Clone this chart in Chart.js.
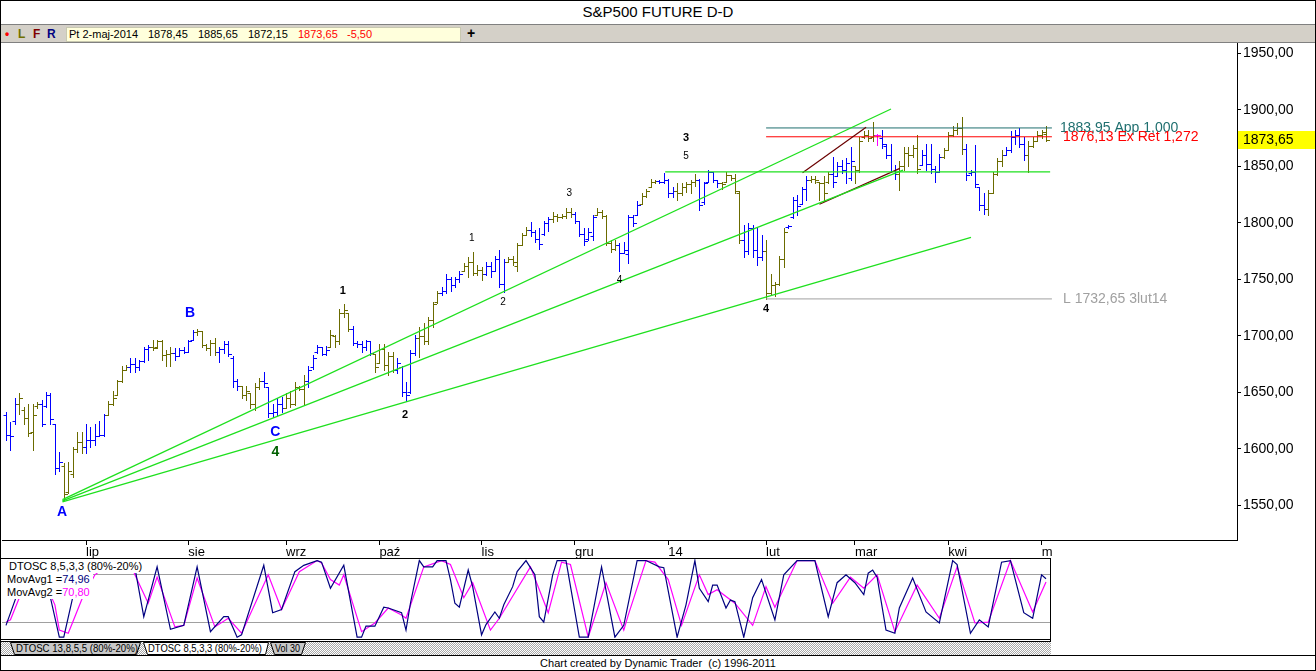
<!DOCTYPE html>
<html>
<head>
<meta charset="utf-8">
<title>S&amp;P500 FUTURE D-D</title>
<script src="https://cdn.jsdelivr.net/npm/chart.js@4.4.1/dist/chart.umd.min.js"></script>
<style>
  html, body { margin: 0; padding: 0; }
  body { width: 1316px; height: 671px; overflow: hidden; position: relative; background: #fff;
         font-family: "Liberation Sans", Arial, sans-serif; color: #000; }
  .abs { position: absolute; }
  #frame { left: 0; top: 0; width: 1314px; height: 669px; border: 1px solid #000; pointer-events: none; z-index: 20; }
  #title { left: 0; top: 4px; width: 1316px; text-align: center; font-size: 15px; line-height: 16px; }
  #toolbar { left: 1px; top: 24px; width: 1314px; height: 17px; background: #d4d0c8;
             border-top: 1px solid #808080; border-bottom: 1px solid #808080; }
  .tb { top: 27px; font-size: 12px; font-weight: bold; line-height: 14px; }
  #info { left: 66px; top: 27px; width: 393px; height: 13px; background: #ffffdc; border: 1px solid #c8c8b0; }
  .inf { top: 27px; font-size: 11px; line-height: 14px; }
  .red { color: #ff0000; }
  #priceChart { left: 0; top: 42px; }
  #oscChart { left: 0; top: 559px; }
  .hl { background: #000; height: 1px; }
  .oscLbl { left: 2px; background: #fff; font-size: 11px; line-height: 13px; padding: 0 3px 0 6px; z-index: 5; white-space: pre; }
  #footer { left: 0; top: 656px; width: 1316px; text-align: center; font-size: 11px; line-height: 14px; white-space: pre; }
</style>
</head>
<body>
<div id="frame" class="abs"></div>
<div id="title" class="abs">S&amp;P500 FUTURE D-D</div>
<div id="toolbar" class="abs"></div>
<div class="abs tb" style="left:5px;color:#ff0000">&#8226;</div>
<div class="abs tb" style="left:18px;color:#707000">L</div>
<div class="abs tb" style="left:33px;color:#800000">F</div>
<div class="abs tb" style="left:47px;color:#000080">R</div>
<div id="info" class="abs"></div>
<div class="abs inf" style="left:69px">Pt 2-maj-2014</div>
<div class="abs inf" style="left:148px">1878,45</div>
<div class="abs inf" style="left:198px">1885,65</div>
<div class="abs inf" style="left:248px">1872,15</div>
<div class="abs inf red" style="left:298px">1873,65</div>
<div class="abs inf red" style="left:347px">-5,50</div>
<div class="abs tb" style="left:467px;font-size:14px;top:26px">+</div>

<canvas id="priceChart" class="abs" width="1316" height="516"></canvas>

<div class="abs hl" style="left:1px;top:558px;width:1050px"></div>
<div class="abs" style="left:1050px;top:558px;width:1px;height:84px;background:#000"></div>
<div class="abs hl" style="left:1px;top:639px;width:1050px"></div>
<div class="abs hl" style="left:1px;top:641px;width:1050px"></div>
<canvas id="oscChart" class="abs" width="1052" height="81"></canvas>
<div class="abs oscLbl" style="top:560px;padding-left:7px">DTOSC 8,5,3,3 (80%-20%)</div>
<div class="abs oscLbl" style="top:573px;padding-left:5px">MovAvg1 =<span id="ma1" style="color:#000080"></span></div>
<div class="abs oscLbl" style="top:586px;padding-left:5px">MovAvg2 =<span id="ma2" style="color:#ff00ff"></span></div>

<svg class="abs" style="left:1px;top:642px" width="1050" height="13">
  <defs>
    <pattern id="dots" width="2" height="2" patternUnits="userSpaceOnUse">
      <rect width="2" height="2" fill="#ffffff"/>
      <rect width="1" height="1" fill="#a8a8a8"/>
      <rect x="1" y="1" width="1" height="1" fill="#a8a8a8"/>
    </pattern>
  </defs>
  <rect width="1050" height="13" fill="url(#dots)"/>
  <polygon points="9.5,0.5 139.5,0.5 135.5,12.5 13.5,12.5" fill="#c8c8c8" stroke="#000" stroke-width="1"/>
  <text x="15" y="10" font-size="11" font-family="Liberation Sans, Arial" textLength="122" lengthAdjust="spacingAndGlyphs">DTOSC 13,8,5,5 (80%-20%)</text>
  <polygon points="142.5,0.5 267.5,0.5 264.5,12.5 146.5,12.5" fill="#ffffff" stroke="#000" stroke-width="1"/>
  <text x="147" y="10" font-size="11" font-family="Liberation Sans, Arial" textLength="114" lengthAdjust="spacingAndGlyphs">DTOSC 8,5,3,3 (80%-20%)</text>
  <polygon points="269.5,0.5 304.5,0.5 300.5,12.5 273.5,12.5" fill="#c8c8c8" stroke="#000" stroke-width="1"/>
  <text x="274" y="10" font-size="11" font-family="Liberation Sans, Arial" textLength="25" lengthAdjust="spacingAndGlyphs">Vol 30</text>
</svg>
<div class="abs hl" style="left:1px;top:655px;width:1314px"></div>
<div id="footer" class="abs">Chart created by Dynamic Trader  (c) 1996-2011</div>

<script>
// S&P500 future, daily bars 5 Jun 2013 - 2 May 2014
const firstSession = '2013-06-05';
const closedDays = ['2013-12-25', '2014-01-01', '2014-04-18'];
const monthLabels = ['lip', 'sie', 'wrz', 'paź', 'lis', 'gru', '14', 'lut', 'mar', 'kwi', 'm'];
const priceTicks = [1550, 1600, 1650, 1700, 1750, 1800, 1850, 1900, 1950];

const opens = [
  1630,1612,1625,1640,1634,1627,1615,1638,1640,1638,
  1648,1622,1583,1585,1562,1578,1600,1606,1602,1608,
  1608,1611,1612,1630,1640,1648,1660,1670,1672,1675,
  1672,1678,1688,1690,1690,1695,1683,1684,1685,1682,
  1687,1686,1696,1703,1704,1692,1689,1694,1686,1688,
  1693,1680,1660,1656,1648,1649,1640,1655,1660,1655,
  1632,1633,1640,1636,1645,1640,1655,1653,1660,1672,
  1686,1690,1684,1690,1700,1695,1720,1720,1706,1694,
  1693,1690,1695,1684,1676,1688,1674,1682,1670,1672,
  1650,1650,1685,1698,1700,1695,1714,1730,1738,1740,
  1750,1745,1750,1757,1762,1765,1756,1758,1755,1762,
  1757,1768,1746,1765,1768,1762,1780,1789,1794,1792,
  1786,1790,1800,1803,1806,1805,1806,1810,1808,1802,
  1790,1786,1788,1807,1810,1806,1782,1777,1780,1773,
  1772,1805,1807,1817,1824,1832,1836,1837,1836,1838,
  1826,1828,1826,1832,1834,1836,1838,1818,1836,1845,
  1838,1835,1836,1842,1840,1826,1785,1775,1795,1776,
  1770,1775,1738,1745,1746,1768,1796,1805,1820,1817,
  1830,1838,1839,1836,1835,1836,1843,1841,1850,1847,
  1840,1850,1847,1876,1878,1876,1877.7,1875,1868,1860,
  1846,1843,1850,1862,1860,1866,1851,1860,1852,1848,
  1845,1858,1864,1878,1882,1884,1865,1844,1845,1832,
  1816,1812,1826,1843,1855,1860,1864,1876,1878,1870,
  1860,1868,1872,1878,1878.45
];
const highs = [
  1633,1624,1645,1649,1637,1640,1640,1641,1643,1650,
  1649,1622,1597,1587,1588,1602,1615,1615,1622,1619,
  1622,1625,1631,1642,1651,1661,1673,1674,1680,1680,
  1679,1690,1692,1696,1696,1696,1687,1690,1689,1689,
  1690,1696,1705,1706,1704,1693,1696,1698,1690,1695,
  1695,1682,1662,1656,1656,1649,1658,1663,1668,1655,
  1640,1645,1646,1649,1651,1659,1656,1665,1673,1683,
  1692,1690,1691,1705,1701,1724,1728,1720,1709,1695,
  1695,1696,1695,1684,1693,1693,1686,1686,1680,1673,
  1659,1687,1701,1708,1711,1717,1730,1740,1743,1755,
  1752,1752,1757,1764,1770,1774,1763,1761,1765,1765,
  1771,1776,1768,1770,1771,1782,1791,1796,1801,1794,
  1795,1802,1805,1810,1808,1808,1813,1813,1810,1802,
  1795,1795,1807,1813,1811,1807,1785,1785,1782,1783,
  1807,1807,1819,1826,1830,1839,1838,1838,1844,1839,
  1832,1835,1835,1836,1838,1843,1839,1836,1847,1845,
  1838,1836,1845,1842,1843,1828,1798,1800,1798,1795,
  1789,1785,1755,1748,1771,1795,1798,1823,1825,1832,
  1841,1841,1841,1836,1841,1845,1858,1854,1856,1857,
  1867,1850,1876,1881,1882,1889,1879,1882,1870,1870,
  1851,1855,1867,1867,1869,1878,1864,1870,1870,1850,
  1861,1866,1880,1886,1888,1894,1870,1847,1869,1832,
  1826,1829,1845,1857,1864,1867,1881,1882,1884,1876,
  1872,1876,1881,1882,1885.65
];
const lows = [
  1608,1599,1622,1631,1622,1611,1599,1636,1620,1637,
  1622,1578,1580,1555,1561,1575,1597,1596,1596,1602,
  1603,1611,1611,1630,1639,1648,1659,1670,1668,1668,
  1670,1677,1679,1687,1689,1679,1673,1673,1679,1682,
  1685,1686,1696,1701,1690,1687,1683,1683,1677,1685,
  1682,1655,1652,1645,1643,1636,1634,1653,1655,1628,
  1628,1630,1633,1636,1637,1639,1652,1640,1655,1671,
  1685,1683,1683,1690,1690,1693,1717,1704,1692,1690,
  1686,1687,1683,1668,1676,1670,1665,1668,1667,1647,
  1642,1649,1683,1681,1693,1693,1708,1729,1736,1738,
  1740,1743,1748,1757,1752,1754,1754,1749,1754,1752,
  1757,1743,1739,1765,1763,1757,1780,1789,1788,1783,
  1777,1789,1793,1801,1802,1804,1804,1805,1800,1788,
  1780,1785,1785,1807,1804,1780,1774,1776,1757,1773,
  1764,1797,1807,1817,1823,1832,1835,1835,1835,1823,
  1823,1820,1825,1827,1826,1833,1811,1817,1836,1836,
  1832,1830,1836,1838,1826,1782,1770,1772,1770,1763,
  1767,1732.65,1736,1735,1745,1761,1795,1804,1807,1817,
  1820,1836,1835,1820,1819,1835,1832,1841,1844,1835,
  1838,1835,1845,1875,1872,1872,1869,1866,1857,1845,
  1839,1829,1847,1850,1858,1844,1851,1847,1844,1836,
  1845,1857,1864,1877,1879,1861,1838,1842,1832,1811,
  1808,1807,1826,1842,1850,1860,1863,1870,1867,1856,
  1845,1867,1872,1875,1872.15
];
const closes = [
  1612,1611,1640,1645,1627,1614,1630,1640,1622,1648,
  1626,1583,1588,1560,1580,1600,1606,1602,1608,1608,
  1611,1612,1630,1640,1645,1660,1670,1672,1675,1672,
  1678,1688,1690,1689,1695,1683,1684,1685,1682,1687,
  1686,1695,1703,1704,1692,1689,1694,1686,1688,1693,
  1684,1660,1656,1648,1651,1640,1655,1660,1658,1632,
  1633,1640,1636,1645,1640,1655,1653,1660,1670,1680,
  1690,1684,1687,1701,1695,1720,1723,1706,1694,1693,
  1690,1695,1685,1672,1688,1674,1682,1670,1676,1650,
  1648,1685,1698,1700,1695,1714,1728,1738,1740,1750,
  1745,1750,1755,1762,1765,1756,1758,1755,1762,1757,
  1768,1746,1765,1768,1765,1780,1789,1794,1792,1786,
  1781,1800,1803,1806,1805,1806,1810,1808,1802,1790,
  1784,1792,1805,1810,1806,1782,1777,1780,1773,1776,
  1805,1800,1816,1824,1828,1836,1837,1836,1838,1826,
  1828,1826,1832,1834,1836,1838,1816,1835,1845,1838,
  1835,1834,1842,1840,1828,1785,1775,1795,1776,1770,
  1775,1738,1745,1746,1768,1792,1797,1820,1815,1830,
  1838,1839,1838,1835,1826,1843,1836,1850,1847,1853,
  1855,1847,1872,1878,1875,1878,1877.7,1870,1860,1846,
  1843,1850,1862,1860,1866,1848,1860,1852,1848,1845,
  1858,1864,1878,1882,1884,1865,1842,1845,1834,1816,
  1812,1826,1843,1855,1860,1864,1876,1878,1870,1860,
  1868,1872,1878,1880,1873.65
];
const markedBars = [196];

// trend lines, [bar index, price]
const fanFromA = [
  [[12.7, 1555], [199.1, 1900.7]],
  [[12.7, 1554], [201.8, 1846.7]],
  [[12.7, 1553], [217.1, 1787.2]]
];
const wave5Level = [[148.3, 1845], [234.9, 1845]];
const wedgeLines = [
  [[179.2, 1844.3], [193.5, 1884.5]],
  [[183.0, 1816.4], [201.1, 1848.2]]
];
const targetLevels = [1883.95, 1876.13, 1732.65];
const targetTexts = ['1883,95 App 1,000', '1876,13 Ex Ret 1,272', 'L 1732,65 3lut14'];
const targetSpan = [171, 235.3];
const targetTextAt = [237.1, 237.8, 237.8];

// wave labels: text, bar index, price, kind
const waveLabels = [
  ['A', 12.6, 1544, 'abc'], ['B', 41.4, 1720, 'abc'], ['C', 60.6, 1615, 'abc'], ['4', 60.6, 1597, 'green'],
  ['1', 75.8, 1740, 'major'], ['2', 89.8, 1630, 'major'],
  ['1', 104.8, 1786.5, 'minor'], ['2', 111.8, 1730, 'minor'], ['3', 126.7, 1826, 'minor'], ['4', 138, 1749.5, 'minor'],
  ['3', 153, 1875, 'major'], ['5', 153, 1859, 'minor'], ['4', 171, 1724, 'major']
];

// DTOSC 8,5,3,3 lines: [bar index, value]
const dtoscFast = [[0,16],[3,63],[5,87],[8,61],[10,51],[12,1],[13,1],[15,51],[18,86],[21,96],[26,93],[29,89],[31,27],[34,90],[37,11],[40,16],[43,90],[46,8],[49,27],[50,27],[52,1],[53,4],[58,92],[60,32],[62,36],[65,84],[67,92],[70,98],[71,96],[73,63],[76,92],[79,1],[80,1],[81,15],[83,15],[85,39],[86,38],[89,32],[90,10],[91,44],[93,98],[94,90],[96,90],[97,98],[99,98],[100,74],[101,44],[102,39],[104,86],[105,65],[107,4],[108,17],[110,33],[111,25],[112,42],[114,65],[115,84],[117,98],[119,80],[120,27],[121,20],[123,80],[124,98],[126,98],[129,1],[131,1],[134,90],[137,1],[139,16],[142,98],[144,98],[147,90],[148,89],[151,1],[153,42],[155,98],[156,63],[158,46],[159,67],[160,67],[162,38],[163,48],[164,46],[166,1],[168,51],[170,74],[173,23],[175,80],[178,98],[182,98],[185,27],[187,70],[189,80],[191,70],[193,55],[194,82],[195,86],[196,77],[198,10],[200,6],[201,38],[204,76],[207,33],[210,19],[213,98],[214,93],[217,6],[219,23],[221,14],[224,96],[226,98],[229,32],[231,25],[233,80],[234,74.96]];
const dtoscSlow = [[0,20],[1,23],[3,51],[5,80],[9,67],[11,42],[12,10],[14,6],[15,20],[17,48],[20,80],[23,93],[28,96],[29,80],[32,44],[34,77],[38,14],[40,16],[43,76],[47,14],[50,25],[53,6],[59,80],[62,36],[66,84],[70,98],[71,95],[73,74],[75,67],[76,80],[80,8],[83,19],[86,38],[89,29],[90,25],[94,90],[98,98],[100,93],[103,51],[105,70],[109,10],[111,25],[118,90],[122,32],[125,96],[127,93],[131,1],[135,70],[139,10],[140,29],[144,98],[146,96],[149,74],[152,16],[156,80],[158,55],[160,61],[164,44],[168,16],[171,65],[173,39],[178,98],[182,98],[186,44],[190,77],[193,63],[196,80],[200,8],[205,67],[210,25],[214,90],[218,19],[221,20],[226,98],[231,33],[234,70.8]];
const oscLevels = [20, 80];

// ---------------------------------------------------------------
const FONT = '"Liberation Sans", Arial, sans-serif';
Chart.defaults.font.family = FONT;
const BLUE = '#0000ff', OLIVE = '#6b6b00', MARK = '#ff00ff';
const GREEN = '#1ee01e', MAROON = '#6b0000';
const targetColors = ['#1f6f6f', '#ff0000', '#a0a0a0'];
const labelStyle = {
  abc:   { font: 'bold 14px ' + FONT, color: '#0000ff' },
  green: { font: 'bold 14px ' + FONT, color: '#006000' },
  major: { font: 'bold 11px ' + FONT, color: '#000' },
  minor: { font: '10px ' + FONT, color: '#000' }
};
const comma = (v, d) => v.toFixed(d).replace('.', ',');

// trading sessions -> month starts and alternating week colour
function buildSessions(n) {
  const out = [];
  const d = new Date(firstSession + 'T12:00:00Z');
  while (out.length < n) {
    const iso = d.toISOString().slice(0, 10);
    const wd = d.getUTCDay();
    if (wd !== 0 && wd !== 6 && !closedDays.includes(iso)) out.push(new Date(d));
    d.setUTCDate(d.getUTCDate() + 1);
  }
  return out;
}
const sessions = buildSessions(closes.length);
const monday0 = new Date(sessions[0]);
monday0.setUTCDate(monday0.getUTCDate() - (monday0.getUTCDay() - 1));
const weekNo = sessions.map(d => Math.floor((d - monday0) / (7 * 864e5)));
const monthStarts = [];
sessions.forEach((d, i) => {
  if (i > 0 && d.getUTCMonth() !== sessions[i - 1].getUTCMonth()) monthStarts.push(i);
});

function barColor(i) {
  if (markedBars.includes(i)) return MARK;
  return weekNo[i] % 2 === 0 ? BLUE : OLIVE;
}

const ohlcBars = {
  id: 'ohlcBars',
  beforeDatasetsDraw(chart) {
    const { ctx, chartArea: a, scales: { x, y } } = chart;
    ctx.save();
    ctx.beginPath();
    ctx.rect(a.left, a.top, a.width, a.height);
    ctx.clip();
    ctx.lineWidth = 1;
    for (let i = 0; i < closes.length; i++) {
      const px = Math.round(x.getPixelForValue(i)) + 0.5;
      const yh = Math.round(y.getPixelForValue(highs[i]));
      const yl = Math.round(y.getPixelForValue(lows[i])) + 1;
      const yo = Math.round(y.getPixelForValue(opens[i])) + 0.5;
      const yc = Math.round(y.getPixelForValue(closes[i])) + 0.5;
      ctx.strokeStyle = barColor(i);
      ctx.beginPath();
      ctx.moveTo(px, yh); ctx.lineTo(px, yl);
      ctx.moveTo(px - 3, yo); ctx.lineTo(px, yo);
      ctx.moveTo(px, yc); ctx.lineTo(px + 3.5, yc);
      ctx.stroke();
    }
    ctx.restore();
  }
};

const chartNotes = {
  id: 'chartNotes',
  afterDatasetsDraw(chart) {
    const { ctx, scales: { x, y } } = chart;
    ctx.save();
    ctx.textBaseline = 'middle';
    ctx.textAlign = 'center';
    waveLabels.forEach(([t, i, p, kind]) => {
      ctx.font = labelStyle[kind].font;
      ctx.fillStyle = labelStyle[kind].color;
      ctx.fillText(t, x.getPixelForValue(i), y.getPixelForValue(p));
    });
    ctx.textAlign = 'left';
    ctx.font = '14px ' + FONT;
    targetLevels.forEach((v, k) => {
      ctx.fillStyle = targetColors[k];
      ctx.fillText(targetTexts[k], x.getPixelForValue(targetTextAt[k]), y.getPixelForValue(v));
    });
    ctx.restore();
  },
  afterDraw(chart) {
    const { ctx, chartArea: a, scales: { y } } = chart;
    const last = closes[closes.length - 1];
    const py = Math.round(y.getPixelForValue(last));
    ctx.save();
    ctx.fillStyle = '#ffff00';
    ctx.fillRect(a.right + 1, py - 9, chart.width - a.right - 1, 18);
    ctx.fillStyle = '#000';
    ctx.font = '14px ' + FONT;
    ctx.textBaseline = 'middle';
    ctx.fillText(comma(last, 2), a.right + 6, py);
    ctx.restore();
  }
};

const seg = (pts, color, w) => ({
  data: pts.map(([bx, by]) => ({ x: bx, y: by })),
  borderColor: color, borderWidth: w || 1, pointRadius: 0, tension: 0, fill: false
});

new Chart(document.getElementById('priceChart'), {
  type: 'line',
  data: {
    datasets: [
      ...fanFromA.map(p => seg(p, GREEN, 1.3)),
      seg(wave5Level, GREEN, 1.3),
      ...wedgeLines.map(p => seg(p, MAROON, 1.2)),
      ...targetLevels.map((v, k) => seg([[targetSpan[0], v], [targetSpan[1], v]], targetColors[k]))
    ]
  },
  options: {
    responsive: false,
    animation: false,
    events: [],
    layout: { padding: { left: 2, top: 1, right: 0, bottom: 0 } },
    plugins: { legend: { display: false }, tooltip: { enabled: false } },
    scales: {
      x: {
        type: 'linear', min: -0.9, max: 276.94,
        afterBuildTicks: s => { s.ticks = monthStarts.map(v => ({ value: v })); },
        afterFit: s => { s.height = 18; s.paddingLeft = 0; s.paddingRight = 0; },
        ticks: {
          callback: (v, idx) => monthLabels[idx] || '',
          align: 'start', autoSkip: false, maxRotation: 0, minRotation: 0,
          padding: 0, color: '#000', font: { size: 13 }
        },
        grid: { drawOnChartArea: false, tickLength: 5, color: '#000' },
        border: { color: '#000' }
      },
      y: {
        position: 'right', min: 1519.3, max: 1959.12,
        afterBuildTicks: s => { s.ticks = priceTicks.map(v => ({ value: v })); },
        afterFit: s => { s.width = 79; s.paddingTop = 0; s.paddingBottom = 0; },
        ticks: { callback: v => comma(v, 2), padding: 2, color: '#000', font: { size: 14 } },
        grid: { drawOnChartArea: false, tickLength: 4, color: '#000' },
        border: { color: '#000' }
      }
    }
  },
  plugins: [ohlcBars, chartNotes]
});

const oscLine = (pts, color) => ({
  data: pts.map(([bx, v]) => ({ x: bx, y: v })),
  borderColor: color, borderWidth: 1.2, pointRadius: 0, tension: 0, fill: false
});

new Chart(document.getElementById('oscChart'), {
  type: 'line',
  data: { datasets: [oscLine(dtoscFast, '#000080'), oscLine(dtoscSlow, '#ff00ff')] },
  options: {
    responsive: false,
    animation: false,
    events: [],
    layout: { padding: { left: 2, right: 2, top: 0, bottom: 2 } },
    plugins: { legend: { display: false }, tooltip: { enabled: false } },
    scales: {
      x: { type: 'linear', min: -0.9, max: 234.9, display: false },
      y: {
        min: 0, max: 100,
        afterBuildTicks: s => { s.ticks = oscLevels.map(v => ({ value: v })); },
        afterFit: s => { s.width = 0; s.paddingTop = 0; s.paddingBottom = 0; },
        ticks: { display: false },
        grid: { color: '#a0a0a0', drawTicks: false },
        border: { display: false }
      }
    }
  }
});

document.getElementById('ma1').textContent = comma(dtoscFast[dtoscFast.length - 1][1], 2);
document.getElementById('ma2').textContent = comma(dtoscSlow[dtoscSlow.length - 1][1], 2);
</script>
</body>
</html>
